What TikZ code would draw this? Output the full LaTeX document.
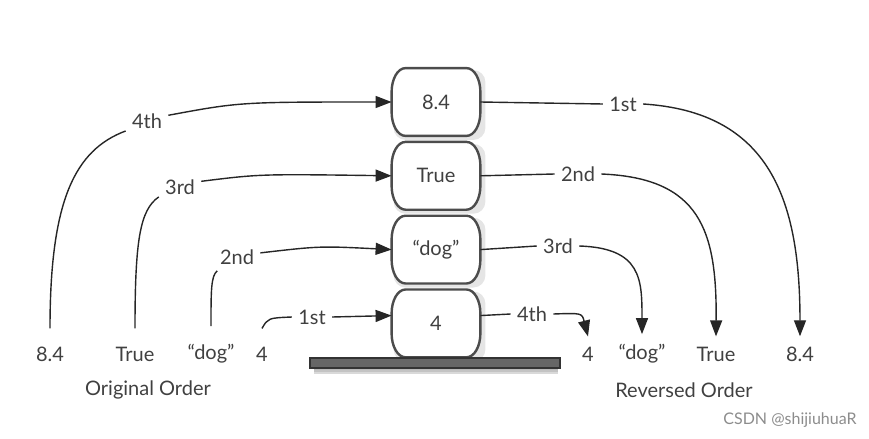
\documentclass[tikz,border=0pt]{standalone}
\usepackage{fontspec}
\setmainfont{Lato}
\usetikzlibrary{arrows.meta,positioning}
\tikzset{
  >={Triangle[length=8pt,width=6pt]},
  every node/.style={font=\fontsize{10}{12}\selectfont, text=black!75},
  cell/.style={minimum width=44pt, minimum height=33.5pt},
  barrel/.style={draw=black!70, line width=1.2pt, fill=white},
  src/.style={inner xsep=2pt, inner ysep=9pt},
  dst/.style={inner xsep=2pt, inner ysep=5pt},
  ord/.style={inner sep=3pt},
  flow/.style={black!85, line width=0.7pt},
}

\begin{document}
\begin{tikzpicture}[x=0.5pt,y=-0.5pt]
  \useasboundingbox (0,0) rectangle (869,439);
  % the stack
  \node[cell] (c1) at (436,102) {};
  \node[cell, below=3pt of c1] (c2) {};
  \node[cell, below=3pt of c2] (c3) {};
  \node[cell, below=3pt of c3] (c4) {};
  \foreach \c/\t in {c1/8.4, c2/True, c3/``dog'', c4/4} {
    \fill[black, opacity=0.1, rounded corners=6pt] ([xshift=1pt,yshift=-1pt]\c.north west)
      rectangle ([xshift=2.5pt,yshift=-2pt]\c.south east);
    \draw[barrel] ([xshift=7pt]\c.north west) -- ([xshift=-7pt]\c.north east)
      .. controls ([xshift=-3pt]\c.north east) and ([yshift=-5.5pt]\c.north east)
      .. ([yshift=-12pt]\c.north east)
      -- ([yshift=12pt]\c.south east)
      .. controls ([yshift=5.5pt]\c.south east) and ([xshift=-3pt]\c.south east)
      .. ([xshift=-7pt]\c.south east)
      -- ([xshift=7pt]\c.south west)
      .. controls ([xshift=3pt]\c.south west) and ([yshift=5.5pt]\c.south west)
      .. ([yshift=12pt]\c.south west)
      -- ([yshift=-12pt]\c.north west)
      .. controls ([yshift=-5.5pt]\c.north west) and ([xshift=3pt]\c.north west)
      .. cycle;
    \node at (\c) {\t};
  }
  \foreach \o in {0.05,0.1,0.15}
    \fill[black, opacity=\o] (314,366) rectangle (558,{368+40*\o});
  \draw[fill=black!60, draw=black!80, line width=0.8pt] (310,358) rectangle (560,368);
  % original order
  \node[src] (l84) at (50,354) {8.4};
  \node[src] (ltrue) at (135,354) {True};
  \node[src] (ldog) at (211,354) {``dog''};
  \node[src] (l4) at (262,354) {4};
  \node (orig) at (148,390) {Original Order};
  \node[ord] (o4l) at (147,121) {4th};
  \node[ord] (o3l) at (180,187) {3rd};
  \node[ord] (o2l) at (237,257) {2nd};
  \node[ord] (o1l) at (312,317) {1st};
  \draw[flow] (l84.north) .. controls (50,200) and (75,150) .. (o4l.205);
  \draw[flow,->] (o4l.15) .. controls (240,102) .. (c1.west);
  \draw[flow] (ltrue.north) .. controls (135,240) and (140,210) .. (o3l.205);
  \draw[flow,->] (o3l.15) .. controls (260,174) .. (c2.west);
  \draw[flow] (ldog.north) .. controls (211,290) and (211,276) .. (o2l.215);
  \draw[flow,->] (o2l.10) .. controls (320,246) .. (c3.west);
  \draw[flow] (l4.north) .. controls (268,318) .. (o1l.west);
  \draw[flow,->] (o1l.east) -- (c4.170);
  % reversed order
  \node[dst] (r4) at (588,354) {4};
  \node[dst] (rdog) at (642,354) {``dog''};
  \node[dst] (rtrue) at (716,354) {True};
  \node[dst] (r84) at (800,354) {8.4};
  \node (rev) at (684,390) {Reversed Order};
  \node[ord] (o1r) at (623,104) {1st};
  \node[ord] (o2r) at (578,174) {2nd};
  \node[ord] (o3r) at (558,246) {3rd};
  \node[ord] (o4r) at (532,314) {4th};
  \draw[flow] (c1.east) -- (o1r.west);
  \draw[flow,->] (o1r.east) .. controls (770,112) and (800,200) .. (r84.north);
  \draw[flow] (c2.east) -- (o2r.west);
  \draw[flow,->] (o2r.east) .. controls (700,178) and (717,230) .. (rtrue.north);
  \draw[flow] (c3.east) -- (o3r.west);
  \draw[flow,->] (o3r.east) .. controls (642,248) and (642,280) .. (rdog.north);
  \draw[flow] (c4.10) -- (o4r.west);
  \draw[flow,->] (o4r.east) .. controls (582,313) .. (r4.north);
  % watermark
  \node[text=black!45, font=\fontsize{8}{10}\selectfont] (mark) at (790,420) {CSDN @shijiuhuaR};
\end{tikzpicture}
\end{document}
